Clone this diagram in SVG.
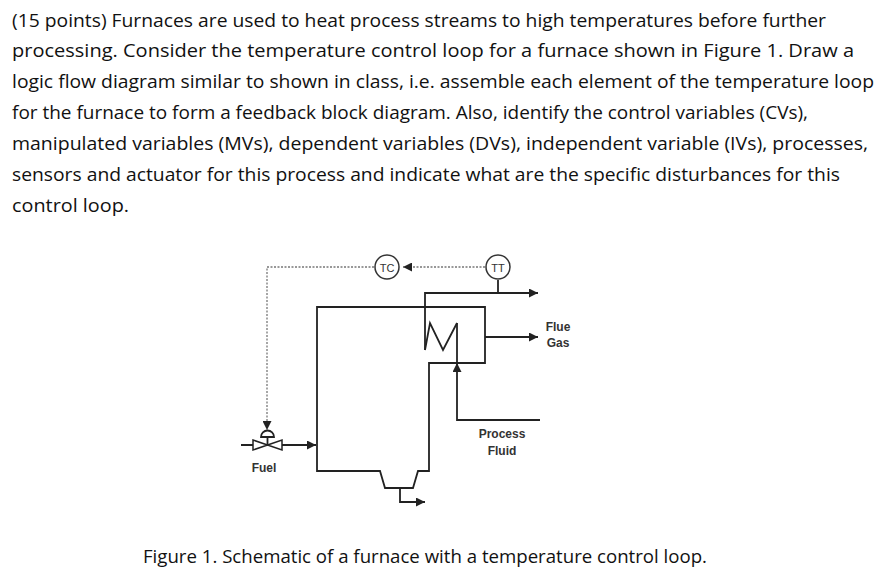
<svg xmlns="http://www.w3.org/2000/svg" width="884" height="582" viewBox="0 0 884 582">
<style>
.t{font-family:"Open Sans","Liberation Sans",sans-serif;font-size:18px;fill:#111}
.s{font-family:"Liberation Sans",Arial,sans-serif;font-size:12px;font-weight:bold;fill:#333;text-anchor:middle}
.ln{fill:none;stroke:#222;stroke-width:1.8}
.dt{fill:none;stroke:#777;stroke-width:1.3;stroke-dasharray:2 1.5}
</style>
<defs>
<marker id="a" viewBox="0 0 10 10" refX="10" refY="5" markerWidth="9" markerHeight="9" markerUnits="userSpaceOnUse" orient="auto"><path d="M0,0L10,5L0,10z" fill="#222"/></marker>
</defs>
<rect width="884" height="582" fill="#fff"/>
<g id="question">
<text class="t" x="12" y="27" textLength="814" lengthAdjust="spacingAndGlyphs">(15 points) Furnaces are used to heat process streams to high temperatures before further</text>
<text class="t" x="12" y="57" textLength="842" lengthAdjust="spacingAndGlyphs">processing.  Consider the temperature control loop for a furnace shown in Figure 1.  Draw a</text>
<text class="t" x="12" y="88" textLength="862" lengthAdjust="spacingAndGlyphs">logic flow diagram similar to shown in class, i.e. assemble each element of the temperature loop</text>
<text class="t" x="12" y="119" textLength="796" lengthAdjust="spacingAndGlyphs">for the furnace to form a feedback block diagram.  Also, identify the control variables (CVs),</text>
<text class="t" x="12" y="150" textLength="856" lengthAdjust="spacingAndGlyphs">manipulated variables (MVs), dependent variables (DVs), independent variable (IVs), processes,</text>
<text class="t" x="12" y="181" textLength="828" lengthAdjust="spacingAndGlyphs">sensors and actuator for this process and indicate what are the specific disturbances for this</text>
<text class="t" x="12" y="212" textLength="117" lengthAdjust="spacingAndGlyphs">control loop.</text>
<text class="t" x="143" y="563" textLength="564" lengthAdjust="spacingAndGlyphs">Figure 1.  Schematic of a furnace with a temperature control loop.</text>
</g>
<g id="connectors">
<path class="dt" d="M485,267H403" marker-end="url(#a)"/>
<path class="dt" d="M374,267H267V430" marker-end="url(#a)"/>
<path class="ln" d="M498,280V293"/>
<path class="ln" d="M425,350V293H538" marker-end="url(#a)"/>
<path class="ln" d="M485,337H538" marker-end="url(#a)"/>
<path class="ln" d="M540,420H457V363" marker-end="url(#a)"/>
<path class="ln" d="M457,363V323"/>
<path class="ln" d="M241,445H316" marker-end="url(#a)"/>
<path class="ln" d="M400,488V502H425" marker-end="url(#a)"/>
</g>
<g id="furnace">
<path class="ln" d="M317,471V307H485V363H429V471H418L413,488H385L380,471Z"/>
<path class="ln" d="M425,350L430,323L443,350L457,323"/>
</g>
<g id="TC"><circle cx="387" cy="267" r="12" fill="#fff" stroke="#333" stroke-width="1.5"/><text class="s" x="387" y="271.5" style="font-weight:normal;font-size:11px">TC</text></g>
<g id="TT"><circle cx="498" cy="267" r="12" fill="#fff" stroke="#333" stroke-width="1.5"/><text class="s" x="498" y="271.5" style="font-weight:normal;font-size:11px">TT</text></g>
<g id="valve">
<path d="M253,440L282,450V440L253,450Z" fill="#fff" stroke="#222" stroke-width="1.5"/>
<path class="ln" d="M267.5,445V437M261,437A6.5,6.5 0 0 1 274,437Z"/>
</g>
<g id="labels">
<text class="s" x="264" y="472">Fuel</text>
<text class="s" x="558" y="331">Flue</text>
<text class="s" x="558" y="347">Gas</text>
<text class="s" x="502" y="438">Process</text>
<text class="s" x="502" y="455">Fluid</text>
</g>
</svg>
